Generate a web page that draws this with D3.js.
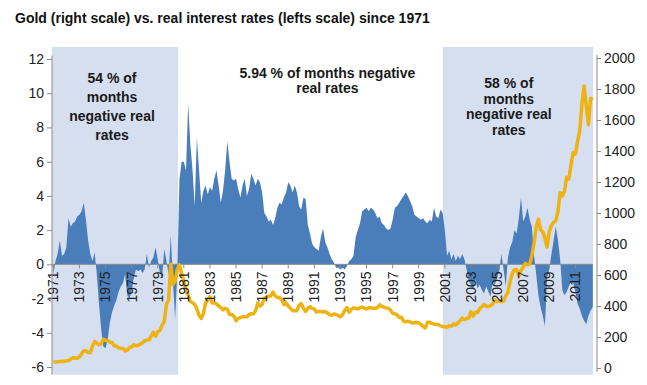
<!DOCTYPE html>
<html>
<head>
<meta charset="utf-8">
<script src="https://cdn.jsdelivr.net/npm/d3@7/dist/d3.min.js"></script>
<style>
  body { margin: 0; background: #fff; }
  svg { display: block; font-family: "Liberation Sans", Arial, sans-serif; }
</style>
</head>
<body>
<div id="chart"></div>
<script>
// Series are bimonthly, first point is Jan 1971
var startYear = 1971;
var stepsPerYear = 6;

// real interest rate, % (left scale)
var realRates = [
  -0.6, 0.2, 0.6, 1.4, 0.5, 0.6,
  1.0, 2.7, 2.2, 2.4, 2.5, 2.8,
  2.9, 3.1, 3.6, 2.6, 1.4, 0.6,
  0.2, 0.7, -0.6, -2.3, -3.8, -4.8,
  -4.9, -4.4, -3.4, -2.8, -2.4, -2.1,
  -1.6, -1.3, -1.1, -0.6, -1.8, -2.0,
  -1.6, -0.8, -0.3, -0.4, -0.3, -0.5,
  -0.3, 0.6, -0.2, 0.2, 0.4, 1.0,
  0.3, -0.5, -0.8, 0.9, 0.2, -0.6,
  1.7, -1.0, -3.2, -0.5, 5.0, 6.0,
  6.0, 5.5, 9.4, 7.0, 5.5, 3.4,
  7.4, 5.5, 3.6, 4.3, 4.6, 4.1,
  4.5, 4.3, 5.0, 5.5, 4.6, 3.6,
  4.3, 5.5, 7.2, 6.0, 5.0, 4.9,
  5.0, 4.4, 3.9, 4.6, 5.0, 4.0,
  4.4, 5.3, 5.0, 4.6, 5.0, 4.8,
  4.2, 3.0, 2.8, 2.5, 2.6, 2.3,
  2.7, 3.3, 3.6, 3.5, 3.9, 4.2,
  4.8, 4.6, 4.2, 4.6, 4.2, 3.4,
  3.2, 3.9, 3.8, 2.3, 1.8, 1.2,
  1.0, 0.9, 0.8, 1.6, 2.1, 1.3,
  1.0, 0.6, 0.3, 0.1, -0.2, -0.2,
  -0.3, -0.2, -0.3, -0.1, 0.2, 0.3,
  0.5, 1.6, 2.0, 2.4, 3.1, 3.2,
  3.3, 3.1, 3.3, 3.2, 3.0, 2.7,
  2.8, 2.4, 2.3, 2.1, 2.0, 2.1,
  2.6, 3.3, 3.4, 3.6, 3.8, 4.0,
  4.2, 4.0, 3.7, 3.4, 2.9, 2.8,
  2.7, 2.6, 2.7, 2.5, 2.4, 2.6,
  2.5, 3.3, 2.8, 2.7, 3.2, 3.0,
  2.0, 0.5, 0.8, 0.3, 0.6, 0.2,
  0.5, 0.3, 0.6, 0.3, -0.3, -1.0,
  -1.2, -1.5, -0.9, -1.4, -1.2, -1.5,
  -1.7, -1.3, -1.6, -1.9, -1.0, -1.2,
  -0.8, -0.4, 0.6, -0.3, -1.3, 0.4,
  1.0, 1.3, 2.0, 1.8, 2.7, 3.9,
  2.5, 2.8, 3.3, 2.6, 2.2, 0.5,
  -0.6, -1.8, -2.5, -3.0, -3.6, -0.8,
  -0.3, 0.6, 1.4, 2.2, 1.4, 0.3,
  -1.5, -1.8, -1.6, -1.3, -1.0, -1.1,
  -1.6, -2.3, -2.6, -3.0, -3.3, -3.5,
  -3.0, -2.7, -2.5
];

// gold price, USD/oz (right scale)
var goldPrice = [
  38, 39, 40, 42, 42, 43,
  47, 49, 58, 66, 65, 63,
  72, 90, 112, 110, 100, 98,
  140, 172, 160, 150, 155, 185,
  178, 178, 167, 165, 143, 140,
  130, 128, 126, 110, 116, 132,
  135, 150, 143, 146, 154, 162,
  176, 180, 182, 205, 230, 205,
  235, 242, 275, 300, 410, 440,
  670, 540, 560, 635, 665, 610,
  560, 500, 470, 430, 420, 410,
  380, 340, 320, 350, 420, 440,
  460, 420, 420, 415, 400, 390,
  375, 385, 380, 345, 345, 335,
  305, 320, 325, 330, 330, 330,
  345, 350, 350, 370, 420, 400,
  410, 450, 455, 465, 465, 490,
  465, 455, 455, 440, 410, 420,
  400, 385, 370, 370, 370, 405,
  415, 385, 365, 385, 395, 385,
  380, 360, 365, 365, 360, 365,
  355, 345, 340, 348, 345, 338,
  330, 345, 372, 390, 360, 378,
  388, 385, 382, 388, 394, 386,
  380, 388, 388, 386, 385, 390,
  408, 398, 392, 388, 385, 375,
  352, 350, 342, 326, 328, 302,
  298, 302, 298, 290, 292, 295,
  290, 282, 268, 258, 295, 295,
  288, 284, 280, 280, 272, 268,
  266, 263, 272, 270, 285, 278,
  290, 305, 322, 312, 320, 322,
  362, 335, 360, 358, 382, 395,
  410, 400, 395, 402, 412, 440,
  428, 432, 428, 432, 465, 488,
  560, 610, 635, 635, 595, 630,
  650, 675, 665, 670, 725, 805,
  910, 960, 890, 880, 835, 780,
  880, 920, 940, 950, 1010, 1130,
  1110, 1140, 1230, 1220, 1310, 1390,
  1380, 1460, 1530, 1700, 1820, 1690,
  1570, 1740, 1730
];

var leftTicks = [12, 10, 8, 6, 4, 2, 0, -2, -4, -6];
var rightTicks = [0, 200, 400, 600, 800, 1000, 1200, 1400, 1600, 1800, 2000];
var yearLabels = [1971, 1973, 1975, 1977, 1979, 1981, 1983, 1985, 1987, 1989, 1991,
                  1993, 1995, 1997, 1999, 2001, 2003, 2005, 2007, 2009, 2011];
// periods of mostly negative real rates (shaded)
var shadedPeriods = [[1970.9, 1980.55], [2000.85, 2012.35]];

var titleText = "Gold (right scale) vs. real interest rates (lefts scale) since 1971";
var noteLeft = ["54 % of", "months", "negative real", "rates"];
var noteMiddle = ["5.94 % of months negative", "real rates"];
var noteRight = ["58 % of", "months", "negative real", "rates"];

var rateData = realRates.map(function(v, i) { return { t: startYear + i / stepsPerYear, v: v }; });
var goldData = goldPrice.map(function(v, i) { return { t: startYear + i / stepsPerYear, v: v }; });

var width = 647, height = 385;
var svg = d3.select("#chart").append("svg")
  .attr("width", width)
  .attr("height", height);

// scales
var x = d3.scaleLinear().domain([1970.9, 2012.35]).range([52, 593]);
var yL = d3.scaleLinear().domain([-6, 12]).range([367, 59]);
var yR = d3.scaleLinear().domain([0, 2000]).range([368, 58]);

// shaded background bands
svg.append("g").selectAll("rect")
  .data(shadedPeriods)
  .enter().append("rect")
  .attr("x", function(d) { return x(d[0]); })
  .attr("width", function(d) { return x(d[1]) - x(d[0]); })
  .attr("y", yL(12.7))
  .attr("height", yL(-6.45) - yL(12.7))
  .style("fill", "#d5dff0");

// real rates area
var area = d3.area()
  .x(function(d) { return x(d.t); })
  .y0(yL(0))
  .y1(function(d) { return yL(d.v); });

svg.append("path")
  .datum(rateData)
  .attr("d", area)
  .style("fill", "#4a7ebb");

// zero line with small year ticks
svg.append("line")
  .attr("x1", x(1970.9)).attr("x2", x(2012.35))
  .attr("y1", yL(0)).attr("y2", yL(0))
  .style("stroke", "#8a8a8a").style("stroke-width", 1);

svg.append("g").selectAll("line")
  .data(yearLabels)
  .enter().append("line")
  .attr("x1", function(d) { return x(d); })
  .attr("x2", function(d) { return x(d); })
  .attr("y1", yL(0)).attr("y2", yL(0) + 4)
  .style("stroke", "#8a8a8a");

// gold line
var line = d3.line()
  .x(function(d) { return x(d.t); })
  .y(function(d) { return yR(d.v); });

svg.append("path")
  .datum(goldData)
  .attr("d", line)
  .style("fill", "none")
  .style("stroke", "#eeb212")
  .style("stroke-width", 3.5)
  .style("stroke-linejoin", "round");

// year labels, rotated
svg.append("g").selectAll("text")
  .data(yearLabels)
  .enter().append("text")
  .attr("transform", function(d) { return "translate(" + x(d) + "," + (yL(0) + 7) + ") rotate(-90)"; })
  .attr("dy", "0.35em")
  .attr("text-anchor", "end")
  .style("font-size", "14px")
  .style("fill", "#222")
  .text(function(d) { return d; });

// left axis
var leftAxis = svg.append("g")
  .attr("transform", "translate(52,0)")
  .call(d3.axisLeft(yL).tickValues(leftTicks).tickSize(5).tickPadding(3)
    .tickFormat(function(d) { return String(d); }));
leftAxis.select(".domain").remove();
leftAxis.append("line")
  .attr("y1", yL(12.2)).attr("y2", yL(-6.45))
  .style("stroke", "#8a8a8a");

// right axis
var rightAxis = svg.append("g")
  .attr("transform", "translate(597,0)")
  .call(d3.axisRight(yR).tickValues(rightTicks).tickSize(4).tickPadding(3)
    .tickFormat(function(d) { return String(d); }));
rightAxis.select(".domain").remove();
rightAxis.append("line")
  .attr("y1", yR(2020)).attr("y2", yR(-25))
  .style("stroke", "#8a8a8a");

svg.selectAll(".tick line").style("stroke", "#8a8a8a");
svg.selectAll(".tick text")
  .attr("font-family", null)
  .style("font-size", "14px")
  .style("fill", "#222");

// title
svg.append("text")
  .attr("x", 15)
  .attr("y", 23)
  .style("font-size", "14px")
  .style("font-weight", "bold")
  .style("fill", "#111")
  .text(titleText);

// notes
function addNote(lines, t, v, lineHeight) {
  var g = svg.append("text")
    .attr("text-anchor", "middle")
    .style("font-size", "14px")
    .style("font-weight", "bold")
    .style("fill", "#1a1a1a");
  g.selectAll("tspan")
    .data(lines)
    .enter().append("tspan")
    .attr("x", x(t))
    .attr("y", function(d, i) { return yL(v) + i * lineHeight; })
    .text(function(d) { return d; });
}
addNote(noteLeft, 1975.5, 10.6, 19);
addNote(noteMiddle, 1992.0, 10.9, 15);
addNote(noteRight, 2005.9, 10.3, 15.5);
</script>
</body>
</html>
